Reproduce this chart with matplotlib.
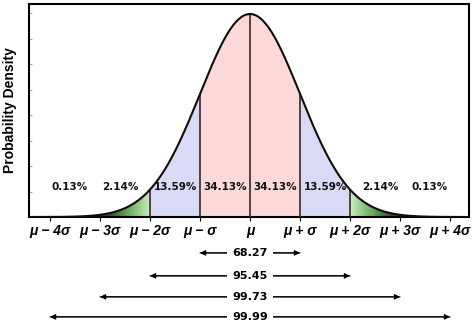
import numpy as np
import matplotlib.pyplot as plt
import matplotlib.transforms as mtransforms
from matplotlib.patches import Polygon
from matplotlib.colors import LinearSegmentedColormap

plt.rcParams["font.family"] = ["DejaVu Sans"]

# Band boundaries (in units of sigma) and the share of area in each band
band_edges = [-4, -3, -2, -1, 0, 1, 2, 3, 4]
band_pcts = ["0.13%", "2.14%", "13.59%", "34.13%", "34.13%", "13.59%", "2.14%", "0.13%"]
band_label_x = [-3.6, -2.6, -1.5, -0.5, 0.5, 1.5, 2.6, 3.6]

tick_pos = [-4, -3, -2, -1, 0, 1, 2, 3, 4]
tick_labels = ["μ − 4σ", "μ − 3σ", "μ − 2σ", "μ − σ", "μ", "μ + σ", "μ + 2σ", "μ + 3σ", "μ + 4σ"]

# Coverage intervals: half-width in sigma and cumulative percentage
interval_k = [1, 2, 3, 4]
interval_labels = ["68.27", "95.45", "99.73", "99.99"]
interval_fig_y = [0.217, 0.146, 0.081, 0.019]

pink = "#fcd9d9"
blue = "#d9daf6"
line_col = "#2a1414"
sans = ["Liberation Sans", "DejaVu Sans"]


def pdf(x):
    return np.exp(-0.5 * x ** 2) / np.sqrt(2 * np.pi)


fig = plt.figure(figsize=(4.74, 3.23), dpi=100)
ax = fig.add_axes([0.0612, 0.328, 0.9283, 0.6596])

x = np.linspace(-4.42, 4.42, 800)
y = pdf(x)

# centre and one-sigma bands
m1 = (x >= -1) & (x <= 1)
ax.fill_between(x[m1], 0, y[m1], color=pink, lw=0)
ml = (x >= -2) & (x <= -1)
ax.fill_between(x[ml], 0, y[ml], color=blue, lw=0)
mr = (x >= 1) & (x <= 2)
ax.fill_between(x[mr], 0, y[mr], color=blue, lw=0)

# green tails with a horizontal gradient, clipped to the area under the curve
grad = np.linspace(0, 1, 256)
gcmap = LinearSegmentedColormap.from_list("tail", ["#cdf0c4", "#6fb266", "#2c5a2a", "#173317"])
for side in (-1, 1):
    xs = np.linspace(2, 4.42, 300) * side
    verts = [(side * 2, 0)] + list(zip(xs, pdf(xs))) + [(side * 4.42, 0)]
    poly = Polygon(verts, closed=True, facecolor="none", edgecolor="none")
    ax.add_patch(poly)
    img = grad[None, :] if side > 0 else grad[None, ::-1]
    extent = [2, 3.2, 0, 0.06] if side > 0 else [-3.2, -2, 0, 0.06]
    im = ax.imshow(img, cmap=gcmap, extent=extent, aspect="auto",
                   interpolation="bilinear", zorder=1)
    im.set_clip_path(poly)

# vertical separators
for e in [-2, -1, 0, 1, 2]:
    ax.plot([e, e], [0, pdf(e)], color=line_col, lw=1.1, zorder=3)

ax.plot(x, y, color="#150a0a", lw=1.5, zorder=4)

for lx, lab in zip(band_label_x, band_pcts):
    ax.text(lx, 0.059, lab, ha="center", va="center", fontsize=7.5,
            fontweight="bold", color="#111111", zorder=5)

ax.set_xlim(-4.42, 4.38)
ax.set_ylim(0, 0.4186)
ax.set_xticks(tick_pos)
ax.set_xticklabels(tick_labels, fontsize=10, fontweight="bold", style="italic", family=sans)
ax.set_yticks(np.arange(0.05, 0.41, 0.05))
ax.set_yticklabels([])
ax.tick_params(axis="y", length=2, direction="in", width=0.6, color="#888888")
ax.tick_params(axis="x", length=3, width=0.8, pad=2)
for sp in ax.spines.values():
    sp.set_linewidth(1.5)
ax.set_ylabel("Probability Density", fontsize=10, fontweight="bold", labelpad=5, family=sans)

# coverage arrows below the axis
trans = mtransforms.blended_transform_factory(ax.transData, fig.transFigure)
for k, lab, fy in zip(interval_k, interval_labels, interval_fig_y):
    for a, b in ((k, -k), (-k, k)):
        ax.annotate("", xy=(a, fy), xytext=(b, fy), xycoords=trans, textcoords=trans,
                    arrowprops=dict(arrowstyle="-|>", lw=0.8, color="black",
                                    mutation_scale=8, shrinkA=0, shrinkB=0),
                    annotation_clip=False)
    ax.text(0, fy, lab, transform=trans, ha="center", va="center", fontsize=8,
            fontweight="bold", bbox=dict(facecolor="white", edgecolor="none", pad=4))

fig.savefig("out.png", dpi=100)
